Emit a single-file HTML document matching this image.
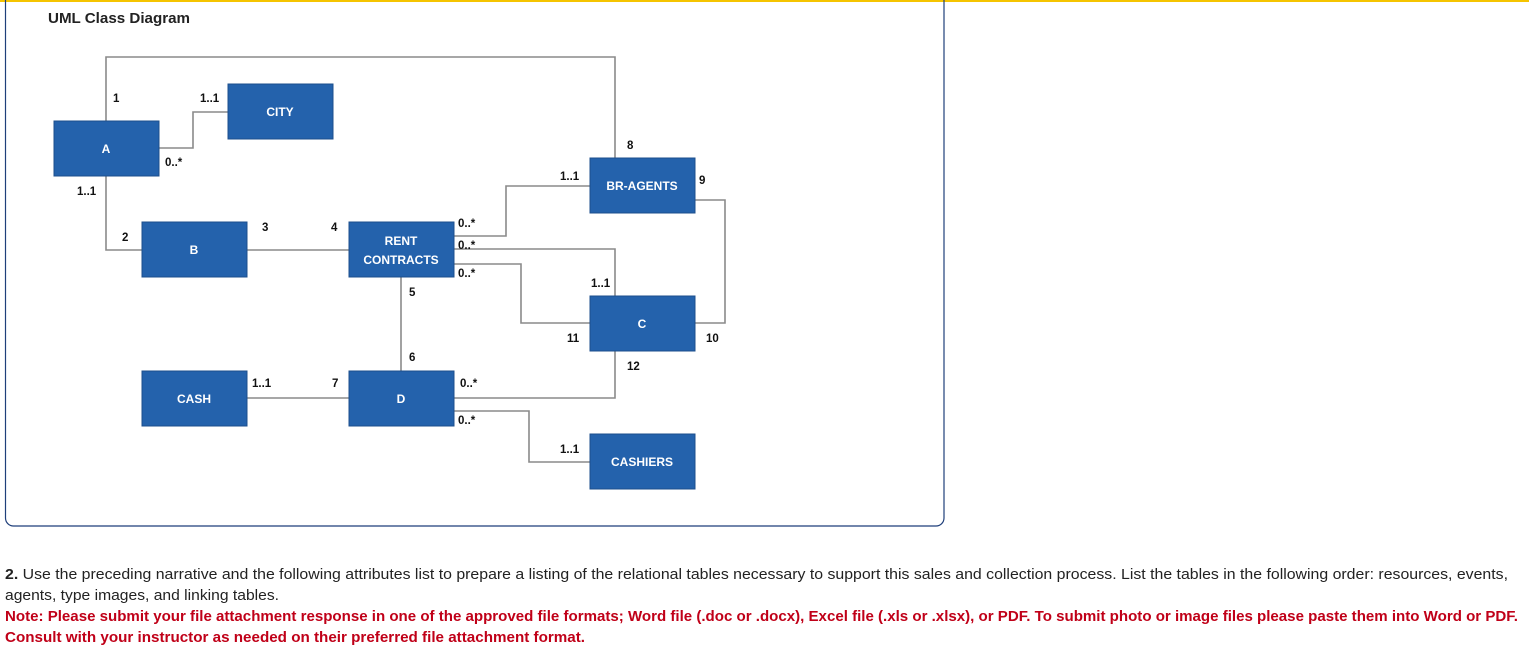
<!DOCTYPE html>
<html><head><meta charset="utf-8"><style>
html,body{margin:0;padding:0;background:#fff;}
svg{display:block;font-family:"Liberation Sans",sans-serif;}
.bx{fill:#2462ac;stroke:#1d4f8c;stroke-width:1}
.bt{fill:#fff;font-size:12px;font-weight:bold;text-anchor:middle}
.ln{fill:none;stroke:#8a8a8a;stroke-width:1.6}
.lb{fill:#111;font-size:11.5px;font-weight:bold}
</style></head><body>
<svg width="1529" height="669" viewBox="0 0 1529 669">
<rect x="0" y="0" width="1529" height="2" fill="#f5c400"/>
<path d="M5.5 0 V518 a8 8 0 0 0 8 8 H936 a8 8 0 0 0 8 -8 V0" fill="none" stroke="#1f3f7a" stroke-width="1.2"/>
<text x="48" y="23" font-size="14.5" font-weight="bold" fill="#222" textLength="142" lengthAdjust="spacingAndGlyphs">UML Class Diagram</text>

<polyline class="ln" points="106,121 106,57 615,57 615,158"/>
<polyline class="ln" points="159,148 193,148 193,112 228,112"/>
<polyline class="ln" points="106,176 106,250 142,250"/>
<polyline class="ln" points="247,250 349,250"/>
<polyline class="ln" points="454,236 506,236 506,186 590,186"/>
<polyline class="ln" points="454,249 615,249 615,296"/>
<polyline class="ln" points="454,264 521,264 521,323 590,323"/>
<polyline class="ln" points="695,200 725,200 725,323 695,323"/>
<polyline class="ln" points="401,277 401,371"/>
<polyline class="ln" points="247,398 349,398"/>
<polyline class="ln" points="454,398 615,398 615,351"/>
<polyline class="ln" points="454,411 529,411 529,462 590,462"/>

<rect class="bx" x="54" y="121" width="105" height="55"/><text class="bt" x="106" y="153">A</text>
<rect class="bx" x="228" y="84" width="105" height="55"/><text class="bt" x="280" y="116">CITY</text>
<rect class="bx" x="142" y="222" width="105" height="55"/><text class="bt" x="194" y="254">B</text>
<rect class="bx" x="349" y="222" width="105" height="55"/><text class="bt" x="401" y="245">RENT</text><text class="bt" x="401" y="264">CONTRACTS</text>
<rect class="bx" x="590" y="158" width="105" height="55"/><text class="bt" x="642" y="190">BR-AGENTS</text>
<rect class="bx" x="590" y="296" width="105" height="55"/><text class="bt" x="642" y="328">C</text>
<rect class="bx" x="142" y="371" width="105" height="55"/><text class="bt" x="194" y="403">CASH</text>
<rect class="bx" x="349" y="371" width="105" height="55"/><text class="bt" x="401" y="403">D</text>
<rect class="bx" x="590" y="434" width="105" height="55"/><text class="bt" x="642" y="466">CASHIERS</text>

<text class="lb" x="113" y="102">1</text>
<text class="lb" x="200" y="102">1..1</text>
<text class="lb" x="165" y="166">0..*</text>
<text class="lb" x="77" y="195">1..1</text>
<text class="lb" x="122" y="241">2</text>
<text class="lb" x="262" y="231">3</text>
<text class="lb" x="331" y="231">4</text>
<text class="lb" x="458" y="227">0..*</text>
<text class="lb" x="458" y="249">0..*</text>
<text class="lb" x="458" y="277">0..*</text>
<text class="lb" x="560" y="180">1..1</text>
<text class="lb" x="627" y="149">8</text>
<text class="lb" x="699" y="184">9</text>
<text class="lb" x="591" y="287">1..1</text>
<text class="lb" x="409" y="296">5</text>
<text class="lb" x="567" y="342">11</text>
<text class="lb" x="706" y="342">10</text>
<text class="lb" x="409" y="361">6</text>
<text class="lb" x="627" y="370">12</text>
<text class="lb" x="252" y="387">1..1</text>
<text class="lb" x="332" y="387">7</text>
<text class="lb" x="460" y="387">0..*</text>
<text class="lb" x="458" y="424">0..*</text>
<text class="lb" x="560" y="453">1..1</text>

<text x="5" y="579" font-size="15" fill="#222" textLength="1503" lengthAdjust="spacingAndGlyphs"><tspan font-weight="bold">2.</tspan> Use the preceding narrative and the following attributes list to prepare a listing of the relational tables necessary to support this sales and collection process. List the tables in the  following order: resources, events,</text>
<text x="5" y="600" font-size="15" fill="#222" textLength="274" lengthAdjust="spacingAndGlyphs">agents, type images, and linking tables.</text>
<text x="5" y="621" font-size="14.5" font-weight="bold" fill="#c00018" textLength="1513" lengthAdjust="spacingAndGlyphs">Note: Please submit your file attachment response in one of the approved file formats; Word file (.doc or .docx), Excel file (.xls or .xlsx), or PDF. To submit photo or image files please paste them into Word or PDF.</text>
<text x="5" y="642" font-size="14.5" font-weight="bold" fill="#c00018" textLength="580" lengthAdjust="spacingAndGlyphs">Consult with your instructor as needed on their preferred file attachment format.</text>
</svg>
</body></html>
